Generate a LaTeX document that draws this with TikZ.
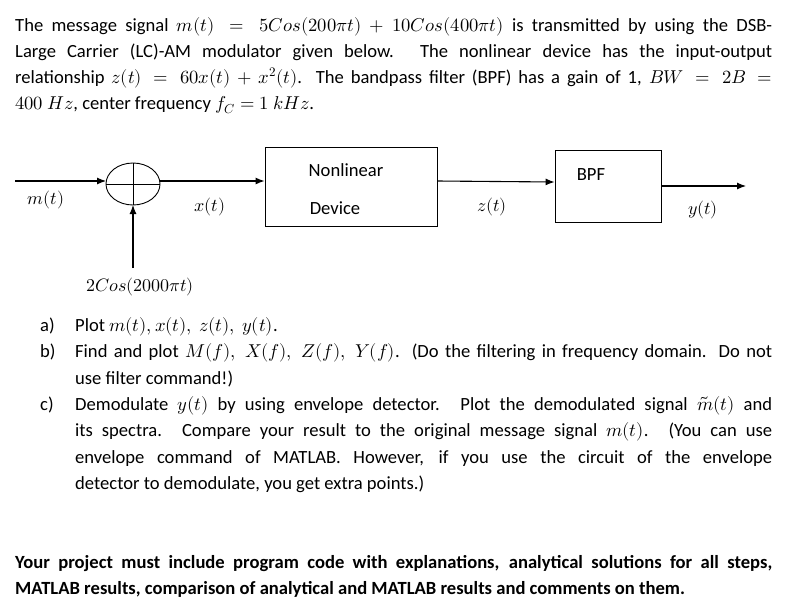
\documentclass[tikz,border=0pt]{standalone}
\usepackage{fontspec}
\usepackage{unicode-math}
\setmainfont{Carlito}
\setmathfont{Latin Modern Math}
\usetikzlibrary{arrows.meta}
\begin{document}
\begin{tikzpicture}[x=1pt,y=-1pt,
  every node/.style={inner sep=0pt,font=\fontsize{18.6}{22}\selectfont},
  blk/.style={draw,line width=0.9pt},
  arr/.style={-{Latex[length=9pt,width=7pt]},line width=1.1pt},
  ln/.style={anchor=base west},
  mlab/.style={font=\fontsize{18}{22}\selectfont}]
\useasboundingbox (0,0) rectangle (800,611);
% paragraph
\node[ln] (l1) at (15,31) {\makebox[757pt][s]{The message signal $m(t)=5Cos(200\pi t)+10Cos(400\pi t)$ is transmitted by using the DSB-}};
\node[ln] (l2) at (15,57) {\makebox[757pt][s]{Large Carrier (LC)-AM modulator given below. The nonlinear device has the input-output}};
\node[ln] (l3) at (15,83) {\makebox[757pt][s]{relationship $z(t)=60x(t)+x^2(t)$. The bandpass filter (BPF) has a gain of 1, $BW=2B=$}};
\node[ln] (l4) at (15,109) {$400\ Hz$, center frequency $f_C=1\ kHz$.};
% diagram
\draw[line width=0.9pt] (133,184) ellipse (27 and 21);
\coordinate (cc) at (133,184);
\draw[line width=0.9pt] (106,184) -- (160,184) (133,163) -- (133,205);
\coordinate (in) at (15,181);
\coordinate (cw) at (106,181);
\coordinate (ce) at (160,181);
\coordinate (cs) at (133,205);
\coordinate (lo) at (133,268);
\node[blk,minimum width=172pt,minimum height=79pt] (nl) at (351,187) {};
\node at (346,170) {Nonlinear};
\node at (335,208) {Device};
\node[blk,minimum width=106pt,minimum height=72pt] (bpf) at (608,186) {};
\node at (591,175) {BPF};
\coordinate (out) at (746,186);
\draw[arr] (in) -- (cw);
\draw[arr] (ce) -- (nl.west |- ce);
\draw[arr] (lo) -- (cs);
\draw[arr] (nl.east |- 0,181) -- (bpf.west |- 0,182);
\draw[arr] (bpf.east |- out) -- (out);
\node[mlab] (lm) at (46,200) {$m(t)$};
\node[mlab] (lx) at (210,207) {$x(t)$};
\node[mlab] (lz) at (492,207) {$z(t)$};
\node[mlab] (ly) at (703,210) {$y(t)$};
\node[mlab] (lc) at (140,287) {$2Cos(2000\pi t)$};
% questions
\node[ln] (qa) at (40,331) {a)};
\node[ln] (ta) at (75,331) {Plot $m(t), x(t),\ z(t),\ y(t)$.};
\node[ln] (qb) at (40,357) {b)};
\node[ln] (tb) at (75,357) {\makebox[697pt][s]{Find and plot $M(f),\ X(f),\ Z(f),\ Y(f)$. (Do the filtering in frequency domain. Do not}};
\node[ln] (tb2) at (75,384) {use filter command!)};
\node[ln] (qc) at (40,410) {c)};
\node[ln] (tc1) at (75,410) {\makebox[697pt][s]{Demodulate $y(t)$ by using envelope detector. Plot the demodulated signal $\tilde m(t)$\ and}};
\node[ln] (tc2) at (75,436) {\makebox[697pt][s]{its spectra. Compare your result to the original message signal $m(t)$. (You can use}};
\node[ln] (tc3) at (75,463) {\makebox[697pt][s]{envelope command of MATLAB. However, if you use the circuit of the envelope}};
\node[ln] (tc4) at (75,489) {detector to demodulate, you get extra points.)};
\node[ln] (b1) at (15,568) {\bfseries\makebox[757pt][s]{Your project must include program code with explanations, analytical solutions for all steps,}};
\node[ln] (b2) at (15,594) {\bfseries MATLAB results, comparison of analytical and MATLAB results and comments on them.};
\end{tikzpicture}
\end{document}
